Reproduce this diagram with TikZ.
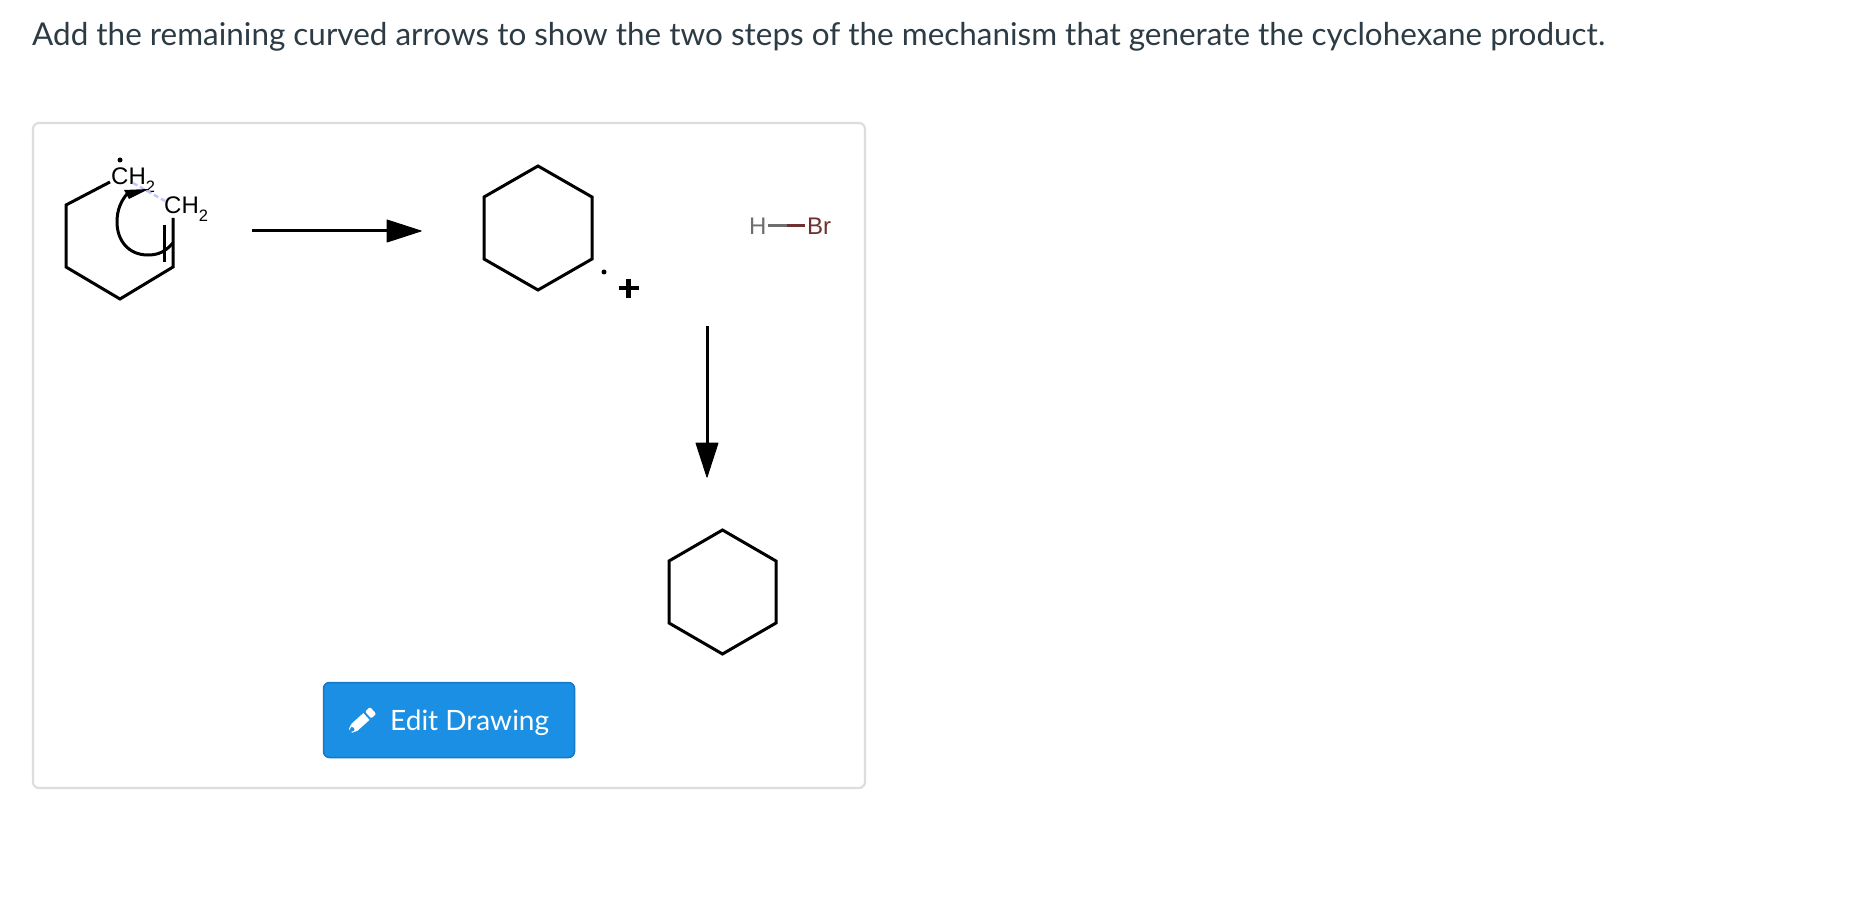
\documentclass[tikz,border=0pt]{standalone}
\usepackage{fontspec}
\setmainfont{Lato}
\newfontfamily\arialf{Liberation Sans}
\definecolor{titlecol}{HTML}{2D3B45}
\definecolor{panelcol}{HTML}{DDDDDD}
\definecolor{btnfill}{HTML}{1A8FE3}
\definecolor{btnline}{HTML}{1379C8}
\definecolor{hgray}{HTML}{6E6E6E}
\definecolor{brbrown}{HTML}{6E3030}
\definecolor{lav}{HTML}{C4C4FF}
\newcommand{\chtwo}{CH\raisebox{-0.3em}{\fontsize{16.5}{16.5}\selectfont 2}}
\tikzset{
  x=1pt,y=-1pt,
  bondline/.style={line width=3pt,black,line join=miter,line cap=butt},
  atomlabel/.style={anchor=base west,inner sep=0pt,font=\arialf\fontsize{24}{26}\selectfont},
  headfill/.style={fill=black,draw=black,line width=1pt,line join=round},
  dotmark/.style={circle,fill=black,inner sep=0pt,minimum size=5pt},
}
\begin{document}
\begin{tikzpicture}
\useasboundingbox (0,0) rectangle (1864,912);
\fill[white] (0,0) rectangle (1864,912);
\node[anchor=base west,inner sep=0pt,text=titlecol,font=\fontsize{31.45}{34}\selectfont] (title) at (32,46) {Add the remaining curved arrows to show the two steps of the mechanism that generate the cyclohexane product.};
% panel
\draw[panelcol,line width=2.2pt,rounded corners=6pt] (33,123) rectangle (865,788);
% left structure
\node[atomlabel] (ch2a) at (111,185) {\chtwo};
\node[atomlabel] (ch2b) at (164,214) {\chtwo};
\node[dotmark] (rad) at (120,160) {};
\coordinate (a1) at (110,182);
\coordinate (a2) at (66,205);
\coordinate (a3) at (66,267);
\coordinate (a4) at (120,299);
\coordinate (a5) at (173,267);
\coordinate (a6) at (173,218);
\draw[bondline] (a1) -- (a2) -- (a3) -- (a4) -- (a5) -- (a6);
\coordinate (d1) at (164,225);
\coordinate (d2) at (164,262);
\draw[bondline] (d1) -- (d2);
\coordinate (ds) at (133,183);
\coordinate (de) at (165,201);
\draw[lav,line width=2.4pt,dash pattern=on 5pt off 3pt] (ds) -- (de);
\coordinate (cs) at (173,243);
\coordinate (ce) at (127,194);
\draw[line width=3pt,black] (cs) .. controls (165,252) and (158,255) .. (148,255) .. controls (128,255) and (117,240) .. (117,222) .. controls (117,210) and (121,201) .. (ce);
\fill[black] (149,189) -- (124,190) -- (129,199) -- cycle;
% middle hexagon
\coordinate (b1) at (538,166);
\coordinate (b2) at (592,197);
\coordinate (b3) at (592,259);
\coordinate (b4) at (538,290);
\coordinate (b5) at (484,259);
\coordinate (b6) at (484,197);
\draw[bondline] (b1) -- (b2) -- (b3) -- (b4) -- (b5) -- (b6) -- cycle;
\node[dotmark] (rad2) at (604,272) {};
\coordinate (p1) at (618.5,288);
\coordinate (p2) at (638.5,288);
\coordinate (p3) at (628.5,279);
\coordinate (p4) at (628.5,297.5);
\draw[line width=4.2pt,black] (p1) -- (p2) (p3) -- (p4);
% arrow 1
\coordinate (r1) at (252,231);
\coordinate (r2) at (387,231);
\coordinate (r3) at (421,231);
\draw[line width=3pt,black] (r1) -- (r2);
\draw[headfill] (r3) -- (387,220) -- (387,242) -- cycle;
% HBr
\node[anchor=base west,inner sep=0pt,text=hgray,font=\arialf\fontsize{24}{26}\selectfont] (hatom) at (749,235) {H};
\node[anchor=base west,inner sep=0pt,text=brbrown,font=\arialf\fontsize{24}{26}\selectfont] (bratom) at (807,235) {Br};
\coordinate (hb1) at (768,226);
\coordinate (hb2) at (787,226);
\coordinate (hb3) at (805,226);
\draw[hgray,line width=3pt] (hb1) -- (hb2);
\draw[brbrown,line width=3pt] (hb2) -- (hb3);
% arrow 2
\coordinate (v1) at (707,326);
\coordinate (v2) at (707,443);
\coordinate (v3) at (707,477);
\draw[line width=3pt,black] (v1) -- (v2);
\draw[headfill] (v3) -- (696,443) -- (718,443) -- cycle;
% product hexagon
\coordinate (c1) at (722.5,530);
\coordinate (c2) at (776,561);
\coordinate (c3) at (776,623);
\coordinate (c4) at (722.5,654);
\coordinate (c5) at (669,623);
\coordinate (c6) at (669,561);
\draw[bondline] (c1) -- (c2) -- (c3) -- (c4) -- (c5) -- (c6) -- cycle;
% button
\draw[fill=btnfill,draw=btnline,line width=1.5pt,rounded corners=6pt] (323.5,682.5) rectangle (574.5,757.5);
\node[anchor=base west,inner sep=0pt,text=white,font=\fontsize{28}{32}\selectfont] (btn) at (390,730) {Edit Drawing};
% pencil
\begin{scope}[shift={(362,720.5)},rotate=42]
\fill[white] (-15.5,-2.5) -- (-10,-4.6) -- (6,-4.6) -- (6,4.6) -- (-10,4.6) -- (-15.5,2.5) -- cycle;
\fill[white,rounded corners=1.2pt] (8.2,-4.6) rectangle (15,4.6);
\fill[btnfill] (-15.5,-1.4) -- (-12,-2.2) -- (-11,0) -- (-12,2.2) -- (-15.5,1.4) -- cycle;
\end{scope}
\end{tikzpicture}
\end{document}
